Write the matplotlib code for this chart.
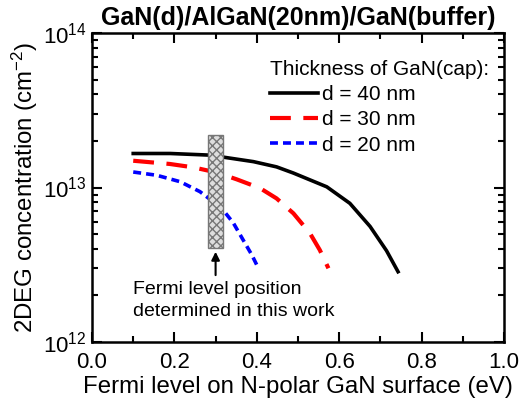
import matplotlib
matplotlib.use('Agg')
import matplotlib.pyplot as plt
from matplotlib.patches import Rectangle
from matplotlib.ticker import LogLocator, MultipleLocator, FormatStrFormatter

plt.rcParams['font.family'] = ['Liberation Sans', 'DejaVu Sans']
plt.rcParams['mathtext.fontset'] = 'custom'
plt.rcParams['mathtext.rm'] = 'Liberation Sans'
plt.rcParams['mathtext.default'] = 'regular'
plt.rcParams['hatch.color'] = '#555555'
plt.rcParams['hatch.linewidth'] = 1.0

# data
ef_40 = [0.10, 0.19, 0.286, 0.392, 0.448, 0.489, 0.570, 0.626, 0.675, 0.715, 0.743]
n_40 = [1.66e13, 1.66e13, 1.62e13, 1.47e13, 1.36e13, 1.24e13, 1.01e13, 7.9e12, 5.6e12, 3.9e12, 2.85e12]
ef_30 = [0.10, 0.189, 0.246, 0.303, 0.351, 0.408, 0.448, 0.489, 0.529, 0.553, 0.574]
n_30 = [1.49e13, 1.42e13, 1.35e13, 1.25e13, 1.13e13, 9.9e12, 8.5e12, 6.8e12, 5.06e12, 3.94e12, 3.0e12]
ef_20 = [0.10, 0.157, 0.214, 0.262, 0.294, 0.319, 0.343, 0.367, 0.388, 0.404]
n_20 = [1.26e13, 1.20e13, 1.09e13, 9.4e12, 8.1e12, 7.1e12, 5.9e12, 4.57e12, 3.66e12, 3.0e12]
labels = ['d = 40 nm', 'd = 30 nm', 'd = 20 nm']
fermi_band = [0.282, 0.318]
band_n = [4.05e12, 2.19e13]

fig = plt.figure(figsize=(5.2, 4.0), dpi=100)
ax = fig.add_axes([0.177, 0.145, 0.792, 0.7725])

ax.add_patch(Rectangle((fermi_band[0], band_n[0]), fermi_band[1] - fermi_band[0],
                       band_n[1] - band_n[0], facecolor='#dddddd', edgecolor='#777777',
                       hatch='xxxx', linewidth=1.0, zorder=3))

ax.plot(ef_40, n_40, color='black', linewidth=2.6, label=labels[0], zorder=2)
ax.plot(ef_30, n_30, color='red', linewidth=3, dashes=(5, 3), label=labels[1], zorder=2)
ax.plot(ef_20, n_20, color='blue', linewidth=2.6, dashes=(2.2, 1.4), label=labels[2], zorder=2)

ax.annotate('', xy=(0.30, 4.0e12), xytext=(0.30, 2.6e12),
            arrowprops=dict(arrowstyle='-|>', color='black', lw=1.5, mutation_scale=12))
ax.text(0.10, 2.5e12, 'Fermi level position\ndetermined in this work',
        fontsize=14, va='top', ha='left', linespacing=1.4)

ax.set_yscale('log')
ax.set_xlim(0, 1.0)
ax.set_ylim(1e12, 1e14)
ax.xaxis.set_major_locator(MultipleLocator(0.2))
ax.xaxis.set_minor_locator(MultipleLocator(0.1))
ax.yaxis.set_major_locator(LogLocator(base=10))
ax.yaxis.set_minor_locator(LogLocator(base=10, subs=range(2, 10)))
ax.xaxis.set_major_formatter(FormatStrFormatter('%.1f'))
ax.tick_params(which='both', direction='in', top=True, right=True, width=1.5)
ax.tick_params(which='major', length=7, labelsize=16)
ax.tick_params(axis='x', which='major', pad=7)
ax.tick_params(axis='y', which='major', pad=4)
ax.tick_params(which='minor', length=4)
for s in ax.spines.values():
    s.set_linewidth(1.8)

ax.set_xlabel('Fermi level on N-polar GaN surface (eV)', fontsize=17.3, labelpad=2)
ax.set_ylabel('2DEG concentration (cm$^{-2}$)', fontsize=17.3, labelpad=2)
ax.set_title('GaN(d)/AlGaN(20nm)/GaN(buffer)', fontsize=18, fontweight='bold', pad=6)

leg = ax.legend(loc='upper right', bbox_to_anchor=(1.0, 0.96), title='Thickness of GaN(cap):',
                fontsize=15, title_fontsize=15, frameon=False, handlelength=2.3,
                handletextpad=0.2, labelspacing=0.3, borderaxespad=0.3, borderpad=0.4)
leg._legend_box.align = 'left'

fig.savefig('out.png', dpi=100)
